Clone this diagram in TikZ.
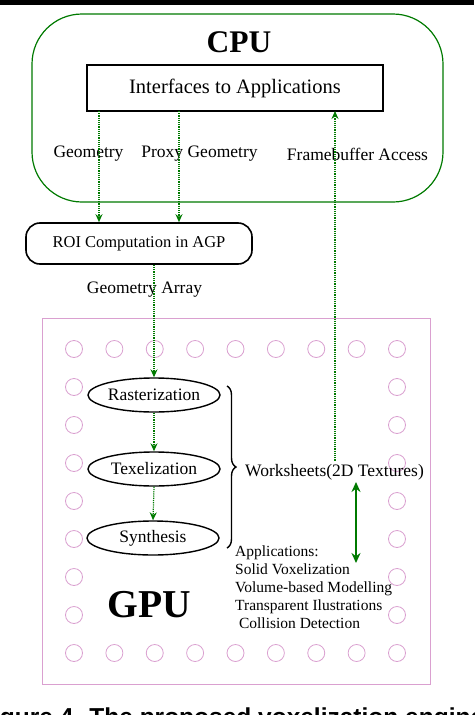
\documentclass[tikz,border=0pt]{standalone}
\usepackage{fontspec}
\setmainfont{Liberation Serif}
\newfontfamily\capfont{Liberation Sans}
\usetikzlibrary{arrows.meta, shapes.geometric, decorations.pathreplacing}
\definecolor{flowgreen}{RGB}{0,122,0}
\definecolor{gpupink}{RGB}{218,160,208}

\begin{document}
\begin{tikzpicture}[x=1pt,y=-1pt,
  flow/.style={flowgreen,densely dotted,line width=1.2pt,-{Stealth[length=8pt,width=7pt]}},
  hole/.style={circle,draw=gpupink,line width=0.8pt,minimum size=17pt,inner sep=0pt},
  stage/.style={ellipse,draw,line width=1.4pt,minimum width=132pt,minimum height=34pt,inner sep=0pt,font=\fontsize{17.5}{19}\selectfont},
  lbl/.style={font=\fontsize{17.5}{19}\selectfont}]
\clip (0,0) rectangle (474,715);
\useasboundingbox (0,0) rectangle (474,715);
\fill[black] (0,0) rectangle (474,5); % top rule

% CPU side
\draw[flowgreen,line width=1.2pt,rounded corners=50pt] (32,14) rectangle (443,202);
\node (cpu) at (239,42) {\fontsize{31.5}{33}\selectfont\bfseries CPU};
\node[draw,line width=1.6pt,minimum width=296pt,minimum height=46pt,font=\fontsize{20.5}{22}\selectfont] (iface) at (235,88) {Interfaces to Applications};
\node[lbl] (geo) at (88.5,154) {Geometry};
\node[lbl] (proxy) at (199.5,154) {Proxy Geometry};
\node[lbl] (fb) at (357.5,154) {Framebuffer Access};

\node[draw,line width=1.6pt,rounded corners=14pt,minimum width=226pt,minimum height=41pt,font=\fontsize{16.5}{18}\selectfont] (roi) at (139,243.5) {ROI Computation in AGP};
\node[lbl] (garr) at (144.5,290) {Geometry Array};

\coordinate (g1) at (99,111);
\coordinate (p1) at (179,111);
\coordinate (f1) at (335,111);
\draw[flow] (g1) -- (g1 |- roi.north);
\draw[flow] (p1) -- (p1 |- roi.north);

% GPU side
\draw[gpupink,line width=0.8pt] (42,318) rectangle (430,684);
\foreach \i in {0,...,8}{
  \node[hole] (top\i) at (74+40.375*\i,349) {};
  \node[hole] (bot\i) at (74+40.375*\i,653) {};
}
\foreach \j in {1,...,7}{
  \node[hole] (left\j) at (74,349+38*\j) {};
  \node[hole] (right\j) at (397,349+38*\j) {};
}

\node[stage] (rast) at (154,395) {Rasterization};
\node[stage] (texel) at (154,469) {Texelization};
\node[stage] (synth) at (153,538) {Synthesis};
\draw[flow] (roi.south -| rast.north) -- (rast.north);
\draw[flow] (rast.south) -- (texel.north);
\draw[flow] (texel.south) -- (synth.north);

\draw[line width=1.4pt,decorate,decoration={brace,amplitude=9pt}] (227,386) -- (227,548);
\node[lbl] (work) at (334.5,472) {Worksheets(2D Textures)};
\draw[flow] (f1 |- work.north) -- (f1);

\coordinate (d1) at (356,482);
\coordinate (d2) at (356,563);
\draw[flowgreen,line width=2.2pt,{Stealth[length=10pt,width=9pt]}-{Stealth[length=10pt,width=9pt]}] (d1) -- (d2);

\node[anchor=north west,align=left,inner sep=0pt,font=\fontsize{15.5}{18}\selectfont] (apps) at (235,546) {Applications:\\Solid Voxelization\\Volume-based Modelling\\Transparent Ilustrations\\\ Collision Detection};
\node (gpu) at (149,605) {\fontsize{39.5}{41}\selectfont\bfseries GPU};

\node[anchor=base west,inner sep=0pt,font=\capfont\bfseries\fontsize{24.5}{26}\selectfont] (caption) at (-22,725.5) {Figure 4. The proposed voxelization engine};
\end{tikzpicture}
\end{document}
